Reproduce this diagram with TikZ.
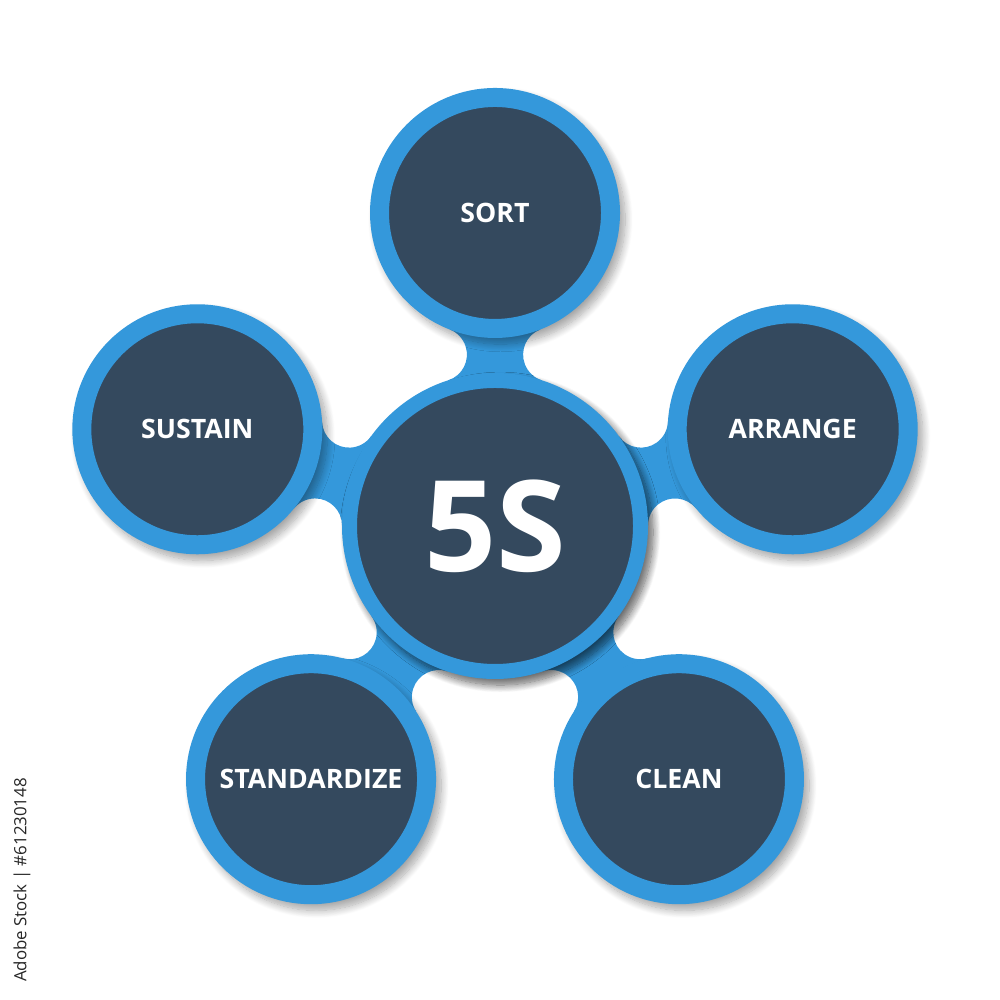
\documentclass[tikz,border=0pt]{standalone}
\usepackage{fontspec}
\setmainfont{Open Sans}
\usetikzlibrary{calc,backgrounds,shadows.blur}
\definecolor{ringblue}{HTML}{3498DB}
\definecolor{coreblue}{HTML}{34495E}

\begin{document}
\begin{tikzpicture}[
		ring/.style={circle, fill=coreblue, draw=ringblue, line width=0.19cm,
			minimum size=2.31cm, inner sep=0pt, text=white,
			font=\bfseries\fontsize{7.6}{9}\selectfont,
			blur shadow={shadow scale=1.08, shadow xshift=0.05cm, shadow yshift=-0.06cm,
				shadow blur radius=0.07cm, shadow blur steps=12, shadow opacity=35}},
		hub/.style={ring, line width=0.15cm, minimum size=2.91cm,
			font=\bfseries\fontsize{36}{40}\selectfont,
			blur shadow={shadow scale=1.05, shadow xshift=0.05cm, shadow yshift=-0.06cm,
				shadow blur radius=0.07cm, shadow blur steps=12, shadow opacity=35}}
	]
	\useasboundingbox (0,0) rectangle (10,10);
	%%%% Mitte
	\node[hub] (hub) at (4.95,4.74) {5S};
	%%%% Kreise rundherum
	\node[ring] (sort) at ($(hub)+(90:3.13)$) {SORT};
	\node[ring] (arrange) at ($(hub)+(18:3.13)$) {ARRANGE};
	\node[ring] (sustain) at ($(hub)+(162:3.13)$) {SUSTAIN};
	\node[ring] (standardize) at ($(hub)+(234:3.13)$) {STANDARDIZE};
	\node[ring] (clean) at ($(hub)+(306:3.13)$) {CLEAN};
	% Stege
	\begin{scope}[on background layer]
		\foreach \a in {18,90,162,234,306} {
			\fill[ringblue, shift={(hub)}, rotate=\a] (1.4565,0.4683)
				arc[start angle=197.83, end angle=338.74, radius=0.27] -- (3.13,0)
				-- (1.9652,-0.4531) arc[start angle=21.26, end angle=162.17, radius=0.27]
				-- (0,0) -- cycle;
		}
	\end{scope}
	% Rand
	\node[rotate=90, text=black!85, font=\fontsize{4.8}{5}\selectfont] (stock) at (0.22,1.2) {Adobe Stock | \#61230148};
\end{tikzpicture}
\end{document}
